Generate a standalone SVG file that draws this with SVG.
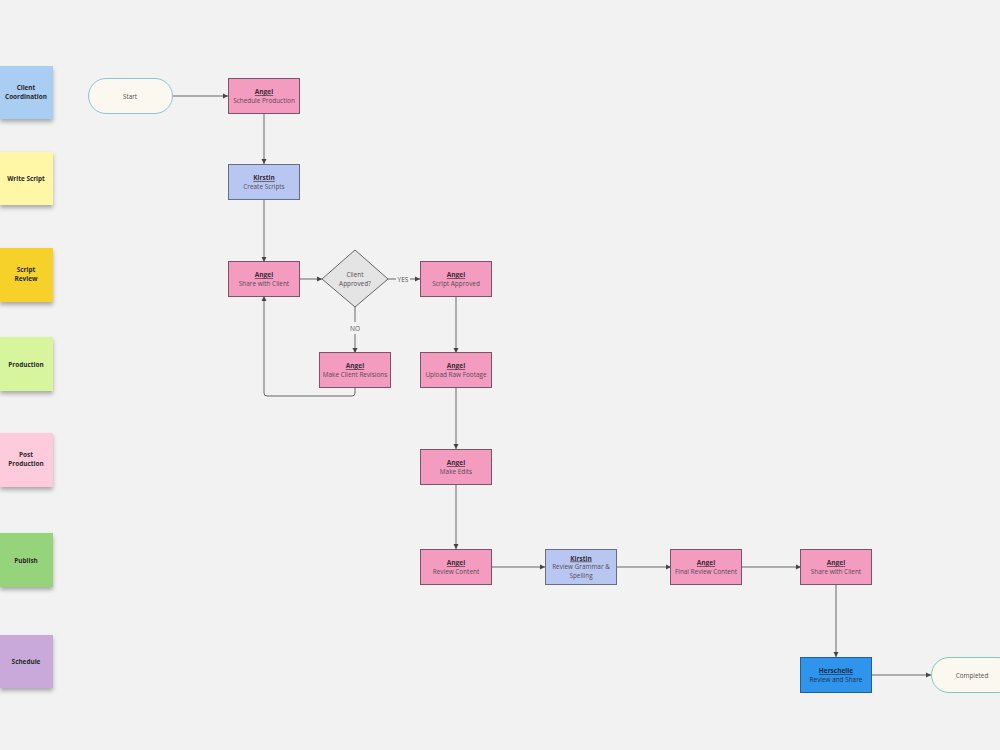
<svg xmlns="http://www.w3.org/2000/svg" width="1000" height="750" viewBox="0 0 1000 750">
<defs>
<filter id="sh" x="-20%" y="-20%" width="140%" height="160%">
<feDropShadow dx="0" dy="3" stdDeviation="2" flood-color="#000" flood-opacity="0.3"/>
</filter>
<marker id="ah" markerWidth="6" markerHeight="6" refX="5" refY="3" orient="auto" markerUnits="userSpaceOnUse">
<path d="M0,0.5 L5,3 L0,5.5 Z" fill="#444"/>
</marker>
<style>
.sticky{filter:url(#sh)}
.st{font-family:"Open Sans","Noto Sans",sans-serif;font-size:6.4px;font-weight:bold;fill:#2a2a2a;text-anchor:middle}
.pk{fill:#f49bc0;stroke:#7a5567;stroke-width:1}
.bl{fill:#b8c7f2;stroke:#6a6d80;stroke-width:1}
.hb{fill:#2f95ec;stroke:#1e5f99;stroke-width:1}
.t1{font-family:"Open Sans","Noto Sans",sans-serif;font-size:6.5px;font-weight:bold;fill:#3a2a35;text-anchor:middle;text-decoration:underline}
.t2{font-family:"Open Sans","Noto Sans",sans-serif;font-size:6.4px;fill:#5a4a55;text-anchor:middle}
.lbl{font-family:"Open Sans","Noto Sans",sans-serif;font-size:6.5px;fill:#555;text-anchor:middle}
.cn{fill:none;stroke:#666;stroke-width:1;marker-end:url(#ah)}
</style>
</defs>
<rect width="1000" height="750" fill="#f2f2f2"/>

<g id="stickies">
<g id="s-client"><rect class="sticky" x="0" y="66" width="53" height="53" fill="#a9cdf3"/><text class="st" x="26" y="90">Client</text><text class="st" x="26" y="99">Coordination</text></g>
<g id="s-write"><rect class="sticky" x="0" y="152" width="53" height="53" fill="#fff6a6"/><text class="st" x="26" y="181">Write Script</text></g>
<g id="s-review"><rect class="sticky" x="0" y="248" width="53" height="54" fill="#f5d12a"/><text class="st" x="26" y="272">Script</text><text class="st" x="26" y="281">Review</text></g>
<g id="s-prod"><rect class="sticky" x="0" y="337" width="53" height="54" fill="#d7f59c"/><text class="st" x="26" y="366.5">Production</text></g>
<g id="s-post"><rect class="sticky" x="0" y="433" width="53" height="54" fill="#fdcbdc"/><text class="st" x="26" y="457">Post</text><text class="st" x="26" y="466">Production</text></g>
<g id="s-publish"><rect class="sticky" x="0" y="533" width="53" height="54" fill="#96d47b"/><text class="st" x="26" y="562.5">Publish</text></g>
<g id="s-schedule"><rect class="sticky" x="0" y="635" width="53" height="53" fill="#c9a9da"/><text class="st" x="26" y="664">Schedule</text></g>
</g>

<g id="connectors">
<line class="cn" x1="172" y1="96" x2="228" y2="96"/>
<line class="cn" x1="264" y1="113" x2="264" y2="164"/>
<line class="cn" x1="264" y1="199" x2="264" y2="262"/>
<line class="cn" x1="299" y1="279" x2="322" y2="279"/>
<line x1="388" y1="279" x2="396" y2="279" stroke="#666" stroke-width="1"/>
<line class="cn" x1="410" y1="279" x2="420" y2="279"/>
<text class="lbl" x="403" y="281.5">YES</text>
<line x1="355" y1="307" x2="355" y2="322" stroke="#666" stroke-width="1"/>
<line class="cn" x1="355" y1="334" x2="355" y2="353"/>
<text class="lbl" x="355" y="331">NO</text>
<path class="cn" d="M355,387 V393 Q355,396 352,396 H267 Q264,396 264,393 V296"/>
<line class="cn" x1="456" y1="296" x2="456" y2="353"/>
<line class="cn" x1="456" y1="387" x2="456" y2="449"/>
<line class="cn" x1="456" y1="484" x2="456" y2="549"/>
<line class="cn" x1="491" y1="567" x2="545" y2="567"/>
<line class="cn" x1="617" y1="567" x2="671" y2="567"/>
<line class="cn" x1="742" y1="567" x2="801" y2="567"/>
<line class="cn" x1="836" y1="584" x2="836" y2="657"/>
<line class="cn" x1="872" y1="675" x2="931" y2="675"/>
</g>

<g id="start"><rect x="88.5" y="78.5" width="84" height="35" rx="17.5" fill="#fbf8ef" stroke="#8ec3de" stroke-width="1"/><text class="t2" x="130" y="98.5">Start</text></g>
<g id="n-schedule"><rect class="pk" x="228.5" y="78.5" width="71" height="35"/><text class="t1" x="264" y="94">Angel</text><text class="t2" x="264" y="102.5">Schedule Production</text></g>
<g id="n-scripts"><rect class="bl" x="228.5" y="164.5" width="71" height="35"/><text class="t1" x="264" y="180">Kirstin</text><text class="t2" x="264" y="188.5">Create Scripts</text></g>
<g id="n-share1"><rect class="pk" x="228.5" y="261.5" width="71" height="35"/><text class="t1" x="264" y="277">Angel</text><text class="t2" x="264" y="285.5">Share with Client</text></g>
<g id="n-decision"><polygon points="355,250 388,279 355,307 322,279" fill="#e4e4e4" stroke="#666" stroke-width="1"/><text class="t2" x="355" y="277">Client</text><text class="t2" x="355" y="285.5">Approved?</text></g>
<g id="n-approved"><rect class="pk" x="420.5" y="261.5" width="71" height="35"/><text class="t1" x="456" y="277">Angel</text><text class="t2" x="456" y="285.5">Script Approved</text></g>
<g id="n-revisions"><rect class="pk" x="319.5" y="352.5" width="71" height="35"/><text class="t1" x="355" y="368">Angel</text><text class="t2" x="355" y="376.5">Make Client Revisions</text></g>
<g id="n-upload"><rect class="pk" x="420.5" y="352.5" width="71" height="35"/><text class="t1" x="456" y="368">Angel</text><text class="t2" x="456" y="376.5">Upload Raw Footage</text></g>
<g id="n-edits"><rect class="pk" x="420.5" y="449.5" width="71" height="35"/><text class="t1" x="456" y="465">Angel</text><text class="t2" x="456" y="473.5">Make Edits</text></g>
<g id="n-reviewcontent"><rect class="pk" x="420.5" y="549.5" width="71" height="35"/><text class="t1" x="456" y="565">Angel</text><text class="t2" x="456" y="573.5">Review Content</text></g>
<g id="n-grammar"><rect class="bl" x="545.5" y="549.5" width="71" height="35"/><text class="t1" x="581" y="560.5">Kirstin</text><text class="t2" x="581" y="569">Review Grammar &amp;</text><text class="t2" x="581" y="578">Spelling</text></g>
<g id="n-final"><rect class="pk" x="670.5" y="549.5" width="71" height="35"/><text class="t1" x="706" y="565">Angel</text><text class="t2" x="706" y="573.5">Final Review Content</text></g>
<g id="n-share2"><rect class="pk" x="800.5" y="549.5" width="71" height="35"/><text class="t1" x="836" y="565">Angel</text><text class="t2" x="836" y="573.5">Share with Client</text></g>
<g id="n-herschelle"><rect class="hb" x="800.5" y="657.5" width="71" height="35"/><text class="t1" x="836" y="673" style="fill:#1d2a44">Herschelle</text><text class="t2" x="836" y="681.5" style="fill:#1d3050">Review and Share</text></g>
<g id="completed"><rect x="931.5" y="657.5" width="84" height="35" rx="17.5" fill="#fbf8ef" stroke="#80c9b4" stroke-width="1"/><text class="t2" x="972" y="677.5">Completed</text></g>
</svg>
